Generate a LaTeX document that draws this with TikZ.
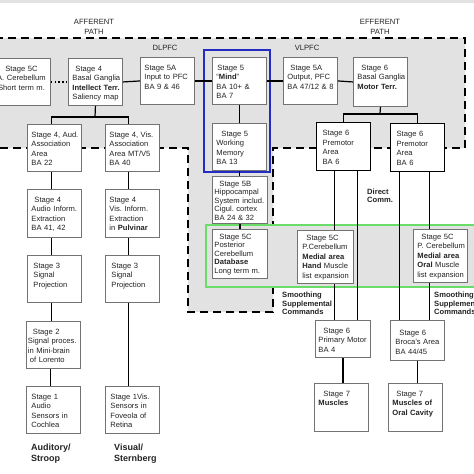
\documentclass[tikz,border=0pt]{standalone}
\usepackage{fontspec}
\setmainfont{Liberation Sans}
\usepackage{xcolor}
\usepackage{tikz}

\definecolor{regiongray}{RGB}{226,226,226}
\definecolor{boxgray}{RGB}{115,115,115}
\definecolor{mindblue}{RGB}{35,45,195}
\definecolor{cerebgreen}{RGB}{105,220,105}
\definecolor{inkgray}{RGB}{35,35,35}
\newcommand{\boxfont}{\fontsize{7.6}{9.5}\selectfont\hyphenpenalty=10000\exhyphenpenalty=10000}
\newcommand{\tightfont}{\fontsize{7.6}{8.4}\selectfont\hyphenpenalty=10000\exhyphenpenalty=10000}
\newcommand{\notefont}{\fontsize{7.6}{8.5}\selectfont\bfseries}
\newcommand{\taskfont}{\fontsize{9}{11}\selectfont\bfseries}

\tikzset{
  stage/.style={draw=boxgray, line width=0.9pt, fill=white, text=inkgray, anchor=north west, align=left,
    font=\boxfont, text width=46pt, inner xsep=4pt, inner ysep=3pt, text height=10pt, text depth=#1},
  stage/.default=31pt,
  tight/.style={font=\tightfont, text height=7pt},
  motorbox/.style={draw=black, line width=1.3pt},
  wire/.style={draw=black, line width=1.2pt},
  region/.style={fill=regiongray, draw=black, line width=1.3pt, dash pattern=on 8pt off 5pt},
  pathlabel/.style={font=\boxfont, text=inkgray, align=center, inner sep=0pt},
  note/.style={font=\notefont, text=inkgray, align=left, anchor=west, inner sep=0pt},
  task/.style={font=\taskfont, text=inkgray, align=left, anchor=west, inner sep=0pt},
}

\begin{document}
\begin{tikzpicture}[x=1pt,y=1pt,yscale=-1,xscale=1]
        \useasboundingbox (0,0) rectangle (474,474);
        \clip (0,0) rectangle (474,474);
        \fill [regiongray] (0,0) rectangle (474,2.5);

        %Shape: Polygon (prefrontal region)
        \draw [region] (-5,38) -- (465,38) -- (465,148) -- (273,148) -- (273,312) -- (188,312) -- (188,148) -- (-5,148) -- cycle;
        %Shape: Rectangle (cerebellum band)
        \draw [draw=cerebgreen, line width=1.3pt, fill=regiongray] (206,225) rectangle (480,287);
        %Shape: Rectangle (mind frame)
        \draw [draw=mindblue, line width=1.6pt] (204,50) rectangle (270,172);

        % Text Node
        \node [pathlabel] (afferent) at (94,27) {AFFERENT\\PATH};
        % Text Node
        \node [pathlabel] (efferent) at (380,27) {EFFERENT\\PATH};
        % Text Node
        \node [pathlabel] (dlpfc) at (165,48) {DLPFC};
        % Text Node
        \node [pathlabel] (vlpfc) at (307,48) {VLPFC};

        % Top row
        \node [stage, text width=50pt, align=center] (cerShort) at (-8,58) {Stage 5C\\A.~Cerebellum\\Short~term~m.};
        \node [stage] (bgIntellect) at (68,58) {\hspace*{3pt}Stage 4\\Basal~Ganglia\\\textbf{Intellect~Terr.}\\Saliency~map};
        \node [stage] (inPFC) at (140,57) {Stage 5A\\Input~to~PFC\\BA~9~\&~46};
        \node [stage] (mind) at (212,57) {\hspace*{1pt}Stage 5\\“\textbf{Mind}”\\BA~10+~\&\\BA~7};
        \node [stage] (outPFC) at (283,57) {\hspace*{3pt}Stage 5A\\Output,~PFC\\BA~47/12~\&~8};
        \node [stage=33pt] (bgMotor) at (353,57) {\hspace*{4pt}Stage 6\\Basal~Ganglia\\\textbf{Motor~Terr.}};

        % Afferent columns
        \node [stage] (audAssoc) at (27,124) {Stage~4,~Aud.\\Association\\Area\\BA~22};
        \node [stage] (visAssoc) at (105,124) {Stage~4,~Vis.\\Association\\Area~MT/V5\\BA~40};
        \node [stage=32pt] (audExtr) at (27,189) {\hspace*{3pt}Stage 4\\Audio~Inform.\\Extraction\\BA~41,~42};
        \node [stage=32pt] (visExtr) at (105,189) {Stage 4\\Vis.~Inform.\\Extraction\\in~\textbf{Pulvinar}};
        \node [stage, inner xsep=6pt, text width=42pt] (audProj) at (27,255) {Stage 3\\Signal\\Projection};
        \node [stage, inner xsep=6pt, text width=42pt] (visProj) at (105,255) {Stage 3\\Signal\\Projection};
        \node [stage, inner xsep=1.5pt, text width=51pt] (audProc) at (26,321) {\hspace*{5pt}Stage 2\\Signal~proces.\\in~Mini-brain\\\hspace*{2pt}of~Lorento};
        \node [stage, inner xsep=5pt, text width=44pt] (audSensor) at (26,386) {Stage 1\\Audio\\Sensors~in\\Cochlea};
        \node [stage, inner xsep=5pt, text width=44pt] (visSensor) at (105,386) {Stage 1Vis.\\Sensors~in\\Foveola~of\\Retina};

        % Text Node
        \node [task] (auditory) at (31,453.5) {Auditory/\\Stroop};
        % Text Node
        \node [task] (visual) at (114,453.5) {Visual/\\Sternberg};

        % Middle column
        \node [stage] (workMem) at (212,123) {\hspace*{5pt}Stage 5\\Working\\Memory\\BA~13};
        \node [stage=34pt, tight, inner xsep=2pt, text width=51pt] (hippo) at (212,176) {\hspace*{5pt}Stage 5B\\Hippocampal\\System~includ.\\Cigul.~cortex\\BA~24~\&~32};
        \node [stage=36pt, tight, inner xsep=2pt, text width=51pt] (postCer) at (212,229) {\hspace*{5pt}Stage 5C\\Posterior\\Cerebellum\\\textbf{Database}\\Long~term~m.};

        % Efferent columns
        \node [stage=32pt, motorbox, inner xsep=6pt, text width=42pt] (premotorL) at (316,122) {Stage 6\\Premotor\\Area\\BA~6};
        \node [stage=32pt, motorbox, inner xsep=6pt, text width=42pt] (premotorR) at (390,123) {Stage 6\\Premotor\\Area\\BA~6};
        \node [stage=40pt, text height=7pt, inner xsep=5pt, text width=46pt] (handCer) at (297,230) {\hspace*{4pt}Stage 5C\\P.Cerebellum\\\textbf{Medial~area}\\\textbf{Hand}~Muscle\\list~expansion};
        \node [stage=40pt, text height=7pt] (oralCer) at (413,229) {\hspace*{4pt}Stage 5C\\P.~Cerebellum\\\textbf{Medial~area}\\\textbf{Oral}~Muscle\\list~expansion};
        \node [stage=21pt, inner xsep=3pt, text width=49pt] (primMotor) at (315,320) {\hspace*{5pt}Stage 6\\Primary~Motor\\BA~4};
        \node [stage=22pt, text height=12pt, inner xsep=5pt, text width=44pt] (broca) at (390,320) {\hspace*{4pt}Stage 6\\Broca's~Area\\BA~44/45};
        \node [stage=32pt] (muscles) at (314,383) {\hspace*{5pt}Stage 7\\\textbf{Muscles}};
        \node [stage=32pt] (oralCavity) at (388,383) {\hspace*{4pt}Stage 7\\\textbf{Muscles~of}\\\textbf{Oral~Cavity}};

        % Text Node
        \node [note] (directComm) at (367,196) {Direct\\Comm.};
        % Text Node
        \node [note] (smoothHand) at (282,303.5) {Smoothing\\Supplemental\\Commands};
        % Text Node
        \node [note] (smoothOral) at (434,303.5) {Smoothing\\Supplemental\\Commands};

        %Straight Lines (top row)
        \draw [wire, line width=1.5pt, dash pattern=on 1.5pt off 2.2pt] (cerShort.east) -- (bgIntellect.west);
        \draw [wire] (bgIntellect.east) -- (inPFC.west);
        \draw [wire] (inPFC.east) -- (mind.west);
        \draw [wire] (mind.east) -- (outPFC.west);
        \draw [wire] (outPFC.east) -- (bgMotor.west);

        %Straight Lines (afferent fork)
        \coordinate (forkA) at (95,117);
        \draw [wire] (bgIntellect.south) -- (forkA);
        \draw [wire] ([xshift=-3pt]audAssoc.north) |- (forkA) -| ([xshift=-4pt]visAssoc.north);
        \draw [wire] ([xshift=-3pt]audAssoc.south) -- ([xshift=-3pt]audAssoc.south |- audExtr.north);
        \draw [wire] ([xshift=-3pt]audExtr.south) -- ([xshift=-3pt]audExtr.south |- audProj.north);
        \draw [wire] ([xshift=-3pt]audProj.south) -- ([xshift=-3pt]audProj.south |- audProc.north);
        \draw [wire] ([xshift=-3pt]audProc.south) -- ([xshift=-3pt]audProc.south |- audSensor.north);
        \draw [wire] ([xshift=-4pt]visAssoc.south) -- ([xshift=-4pt]visAssoc.south |- visExtr.north);
        \draw [wire] ([xshift=-4pt]visExtr.south) -- ([xshift=-4pt]visExtr.south |- visProj.north);
        \draw [wire] ([xshift=-4pt]visProj.south) -- ([xshift=-4pt]visProj.south |- visSensor.north);

        %Straight Lines (middle)
        \draw [wire] (mind.south) -- (mind.south |- workMem.north);
        \draw [wire] (workMem.south) -- (workMem.south |- hippo.north);
        \draw [wire] (hippo.south) -- (hippo.south |- postCer.north);

        %Straight Lines (efferent fork)
        \coordinate (forkM) at (380,114);
        \draw [wire] (bgMotor.south) -- (forkM);
        \draw [wire] (premotorL.north) |- (forkM) -| (premotorR.north);
        \draw [wire] ([xshift=-9pt]premotorL.south) -- ([xshift=-9pt]premotorL.south |- handCer.north);
        \draw [wire] ([xshift=-9pt]premotorL.south |- handCer.south) -- ([xshift=-9pt]premotorL.south |- primMotor.north);
        \draw [wire] ([xshift=14pt]premotorL.south) -- ([xshift=14pt]premotorL.south |- primMotor.north);
        \draw [wire] ([xshift=-18pt]premotorR.south) -- ([xshift=-18pt]premotorR.south |- broca.north);
        \draw [wire] ([xshift=12pt]premotorR.south) -- ([xshift=12pt]premotorR.south |- oralCer.north);
        \draw [wire] ([xshift=12pt]premotorR.south |- oralCer.south) -- ([xshift=12pt]premotorR.south |- broca.north);
        \draw [wire] (primMotor.south) -- (primMotor.south |- muscles.north);
        \draw [wire] (broca.south) -- (broca.south |- oralCavity.north);

\end{tikzpicture}
\end{document}
